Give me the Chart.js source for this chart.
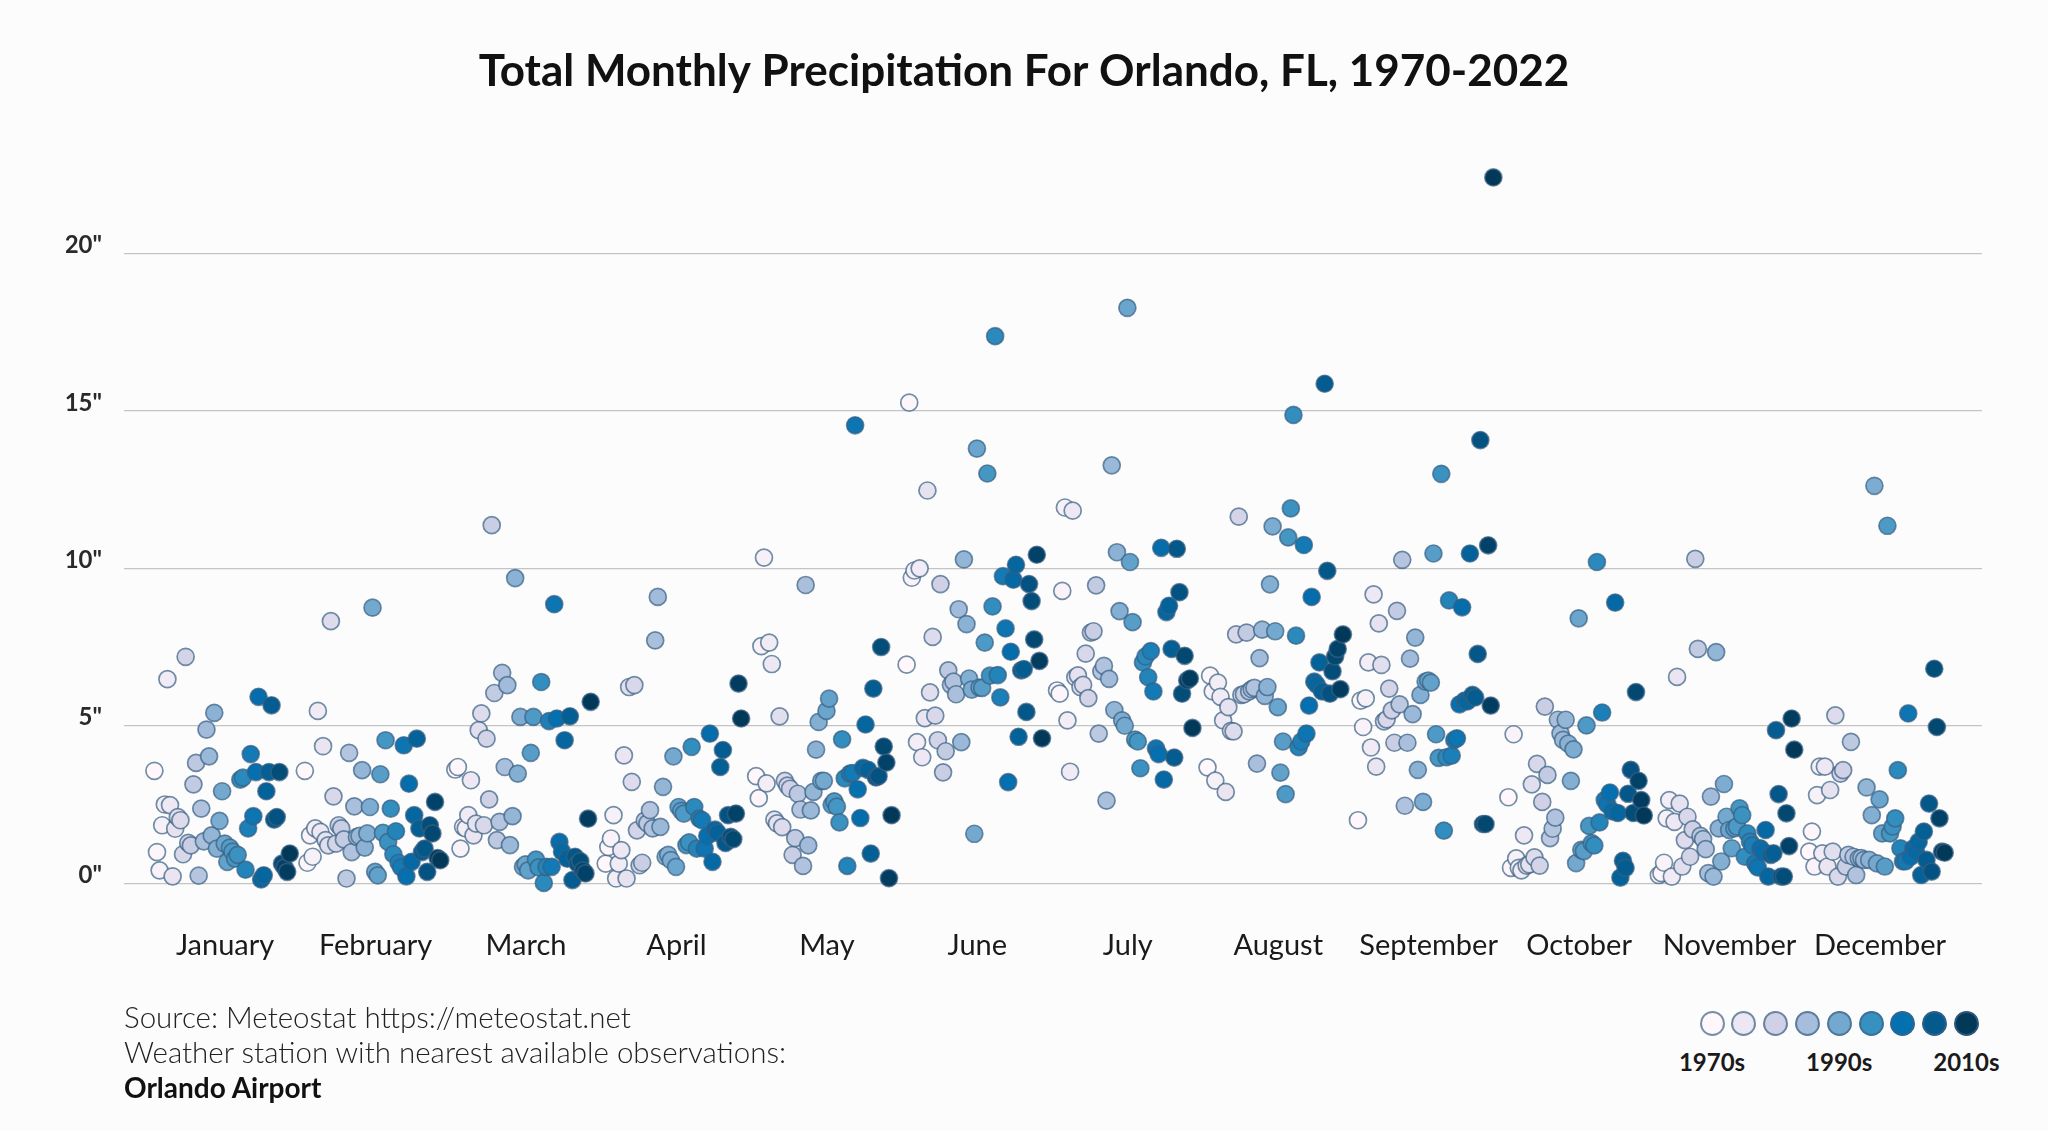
<!DOCTYPE html>
<html>
<head>
<meta charset="utf-8">
<script src="https://cdn.jsdelivr.net/npm/chart.js@4.4.1/dist/chart.umd.min.js"></script>
<style>
  body { margin: 0; background: #fdfcfd; font-family: Lato, "Noto Sans", sans-serif; }
  #wrap { position: absolute; left: 0; top: 0; width: 2048px; height: 1000px; }
  .note { position: absolute; left: 124px; top: 999px; font-size: 29.5px; line-height: 35px; color: #222; font-weight: 300; }
  .note b { font-weight: 700; color: #111; font-size: 28px; }
  .dot { position: absolute; width: 21px; height: 21px; border-radius: 50%; border: 2px solid rgba(60,100,135,0.7); }
  .lab { position: absolute; font-size: 24px; font-weight: 700; color: #1a1a1a; transform: translateX(-50%); top: 1047px; }
</style>
</head>
<body>
<div id="wrap"><canvas id="chart-precip"></canvas></div>
<div class="note">Source: Meteostat https://meteostat.net<br>Weather station with nearest available observations:<br><b>Orlando Airport</b></div>
<div id="legend"></div>
<script>
//*** DATA ***//
const months = ['January', 'February', 'March', 'April', 'May', 'June', 'July', 'August', 'September', 'October', 'November', 'December'];
const firstYear = 1970;
const lastYear = 2022;
const yTicks = [0, 5, 10, 15, 20];
const legendLabels = ['1970s', '1990s', '2010s'];

// inches per month, one value per year 1970-2022
const jan = [3.57,0.99,0.41,1.84,2.5,6.48,2.48,0.22,1.73,2.1,2.0,0.92,7.19,1.28,1.2,3.14,3.82,0.24,2.37,1.33,4.88,4.03,1.52,5.41,1.1,1.98,2.92,1.26,0.68,1.13,1.0,0.78,0.9,3.29,3.35,0.43,1.74,4.1,2.13,3.53,5.92,0.12,0.25,2.92,3.53,5.65,2.02,2.1,3.53,0.62,0.5,0.36,0.94];
const feb = [3.57,0.65,1.52,0.84,1.74,5.47,1.63,4.35,1.37,1.2,8.32,2.76,1.26,1.84,1.74,1.39,0.15,4.14,0.99,2.44,1.47,1.5,3.59,1.13,1.58,2.42,8.75,0.36,0.25,3.46,1.6,4.54,1.31,2.37,0.92,1.65,0.65,0.5,4.38,0.22,3.16,0.68,2.16,4.59,1.74,0.99,1.1,0.36,1.84,1.58,2.58,0.8,0.73];
const mar = [3.61,3.69,1.1,1.79,1.74,2.16,3.27,1.52,1.89,4.86,5.39,1.84,4.59,2.66,11.37,6.04,1.37,1.95,6.68,3.69,6.29,1.21,2.13,9.69,3.48,5.28,0.52,0.6,0.41,4.14,5.28,0.75,0.5,6.39,0.01,0.52,5.15,0.52,8.86,5.23,1.31,1.0,4.54,0.78,5.3,0.1,0.84,0.62,0.7,0.41,0.31,2.05,5.76];
const apr = [0.62,1.15,1.42,2.16,0.15,0.62,1.05,4.06,0.15,6.23,3.22,6.29,1.68,0.57,0.65,1.99,1.9,2.32,1.74,7.71,9.09,1.79,3.06,0.84,0.9,0.73,4.03,0.52,2.42,2.3,2.21,1.21,1.3,4.33,2.42,1.1,2.05,2.0,1.1,1.5,4.75,0.68,1.7,1.6,3.69,4.23,1.28,2.16,1.47,1.4,2.21,6.34,5.23];
const may = [3.4,2.7,7.53,10.34,3.17,7.64,6.96,2.02,1.9,5.3,1.78,3.25,3.1,3.0,0.9,1.43,2.84,2.34,0.55,9.47,1.2,2.31,2.9,4.24,5.12,3.25,3.25,5.47,5.86,2.49,2.6,2.43,1.93,4.57,3.33,0.55,3.48,3.5,14.54,2.98,2.07,3.66,5.04,3.6,0.94,6.18,3.36,3.4,7.5,4.34,3.83,0.16,2.16];
const jun = [6.94,15.26,9.7,9.93,4.48,10.0,4.0,5.24,12.47,6.06,7.82,5.32,4.54,9.5,3.52,4.19,6.76,6.3,6.4,6.0,8.7,4.48,10.28,8.23,6.5,6.15,1.57,13.8,6.21,6.2,7.64,13.01,6.59,8.79,17.37,6.61,5.9,9.75,8.09,3.21,7.35,9.64,10.11,4.65,6.76,6.8,5.44,9.5,8.96,7.74,10.43,7.06,4.6];
const jul = [6.12,6.02,9.28,11.93,5.17,3.54,11.83,6.54,6.6,6.23,6.3,7.29,5.88,7.96,8.0,9.46,4.75,6.73,6.9,2.62,6.49,13.27,5.5,10.51,8.64,5.17,5.0,18.27,10.2,8.29,4.56,4.5,3.65,7.01,7.2,6.54,7.37,6.09,4.28,4.1,10.65,3.29,8.61,8.81,7.44,3.99,10.62,9.24,6.02,7.22,6.44,6.5,4.93];
const aug = [3.68,6.59,6.09,3.26,6.37,5.92,5.17,2.9,5.59,4.84,4.82,7.9,11.64,5.98,6.0,7.96,6.09,6.16,6.2,3.8,7.15,8.05,5.95,6.23,9.49,11.33,8.0,5.59,3.51,4.5,2.83,10.98,11.9,14.87,7.86,4.32,4.5,10.74,4.75,5.64,9.09,6.4,6.3,7.01,6.09,15.86,9.92,6.02,6.73,7.2,7.44,6.16,7.9];
const sep = [2.0,5.8,4.96,5.87,7.01,4.31,9.17,3.7,8.25,6.93,5.14,5.2,6.18,5.49,4.46,8.65,5.68,10.27,2.46,4.46,7.13,5.37,7.8,3.6,5.98,2.58,6.4,6.43,6.37,10.47,4.73,3.98,13.0,1.67,4.0,8.98,4.05,4.55,4.6,5.68,8.76,5.8,5.77,10.47,5.98,5.9,7.28,14.07,1.88,1.88,10.73,5.64,22.41];
const oct = [2.73,0.49,4.73,0.79,0.49,0.41,1.52,0.56,0.6,3.14,0.82,3.79,0.56,2.58,5.61,3.44,1.43,1.73,2.08,5.19,4.76,4.55,5.19,4.43,3.25,4.25,0.64,8.41,1.06,1.02,5.01,1.82,1.27,1.2,10.2,1.93,5.42,2.64,2.5,2.88,2.28,8.91,2.23,0.18,0.71,0.49,2.84,3.6,2.23,6.07,3.25,2.64,2.15];
const nov = [0.26,0.32,0.65,2.06,2.64,0.21,1.95,6.55,2.53,0.53,1.37,2.11,0.84,1.71,10.3,7.44,1.5,1.4,1.08,0.32,2.75,0.21,7.34,1.74,0.69,3.15,2.11,1.69,1.11,1.74,1.8,2.38,2.16,0.84,1.58,1.32,1.2,0.63,0.5,1.11,1.0,1.69,0.21,0.9,0.95,4.86,2.83,0.21,0.21,2.22,1.18,5.23,4.24];
const dec = [1.0,1.64,0.53,2.8,3.7,0.95,3.7,0.53,2.96,1.0,5.33,0.21,3.48,3.59,0.53,0.9,4.49,0.84,0.26,0.79,0.8,0.74,3.04,0.74,2.16,12.62,0.63,2.66,1.58,0.53,11.35,1.58,1.8,2.06,3.59,1.11,0.69,0.7,5.39,0.84,1.11,1.0,1.32,0.26,1.64,0.74,2.53,0.37,6.81,4.96,2.06,1.0,0.97];

const byMonth = [jan, feb, mar, apr, may, jun, jul, aug, sep, oct, nov, dec];

// PuBu ramp
const ramp = ['#fff7fb', '#ece7f2', '#d0d1e6', '#a6bddb', '#74a9cf', '#3690c0', '#0570b0', '#045a8d', '#023858'];


//*** FUNCTIONS ***//
const hexToRgb = h => [1, 3, 5].map(i => parseInt(h.slice(i, i + 2), 16));

const rampColor = t => {
    const pos = t * (ramp.length - 1);
    const i = Math.min(Math.floor(pos), ramp.length - 2);
    const f = pos - i;
    const a = hexToRgb(ramp[i]), b = hexToRgb(ramp[i + 1]);
    const c = a.map((v, k) => Math.round(v + (b[k] - v) * f));
    return `rgb(${c[0]},${c[1]},${c[2]})`;
}

const points = [];
const colors = [];
byMonth.forEach((vals, m) => {
    vals.forEach((v, i) => {
        const t = i / (vals.length - 1);
        points.push({ x: m - 0.47 + t * 0.9, y: v });
        colors.push(rampColor(t));
    });
});


//*** CHART ***//
new Chart(document.getElementById('chart-precip'), {
    type: 'scatter',
    data: {
        datasets: [{
            data: points,
            pointRadius: 8.5,
            pointBackgroundColor: colors,
            pointBorderColor: 'rgba(55,95,130,0.7)',
            pointBorderWidth: 1.7
        }]
    },
    options: {
        responsive: true,
        maintainAspectRatio: false,
        animation: false,
        events: [],
        layout: { padding: { left: 66, right: 66, top: 0, bottom: 0 } },
        plugins: {
            legend: { display: false },
            tooltip: { enabled: false },
            title: {
                display: true,
                text: 'Total Monthly Precipitation For Orlando, FL, ' + firstYear + '-' + lastYear,
                color: '#111',
                font: { family: 'Lato', size: 44, weight: '700', lineHeight: 1.1 },
                padding: { top: 48, bottom: 31 }
            }
        },
        scales: {
            x: {
                type: 'linear',
                min: -0.672,
                max: 11.678,
                grid: { display: false, drawTicks: false },
                border: { display: false },
                afterBuildTicks: scale => { scale.ticks = months.map((_, i) => ({ value: i })); },
                afterFit: scale => { scale.height = 79; },
                ticks: {
                    padding: 7,
                    color: '#1a1a1a',
                    font: { family: 'Lato', size: 29 },
                    maxRotation: 0,
                    autoSkip: false,
                    callback: v => months[v]
                }
            },
            y: {
                min: -1.2,
                max: 24,
                grid: { color: '#c4c4c4', lineWidth: 1.2, drawTicks: false },
                border: { display: false },
                afterBuildTicks: scale => { scale.ticks = yTicks.map(v => ({ value: v })); },
                afterFit: scale => { scale.width = 58; },
                ticks: {
                    padding: 22,
                    labelOffset: -8,
                    color: '#2a2a2a',
                    font: { family: 'Lato', size: 24, weight: '700' },
                    callback: v => v + '"'
                }
            }
        }
    }
});


//*** LEGEND ***//
const legend = document.getElementById('legend');
ramp.forEach((c, k) => {
    const d = document.createElement('div');
    d.className = 'dot';
    d.style.background = c;
    d.style.left = (1712 + k * 31.8 - 12.5) + 'px';
    d.style.top = (1023 - 12.5) + 'px';
    legend.appendChild(d);
});
legendLabels.forEach((txt, k) => {
    const l = document.createElement('div');
    l.className = 'lab';
    l.textContent = txt;
    l.style.left = (1712 + k * 127.2) + 'px';
    legend.appendChild(l);
});
</script>
</body>
</html>
